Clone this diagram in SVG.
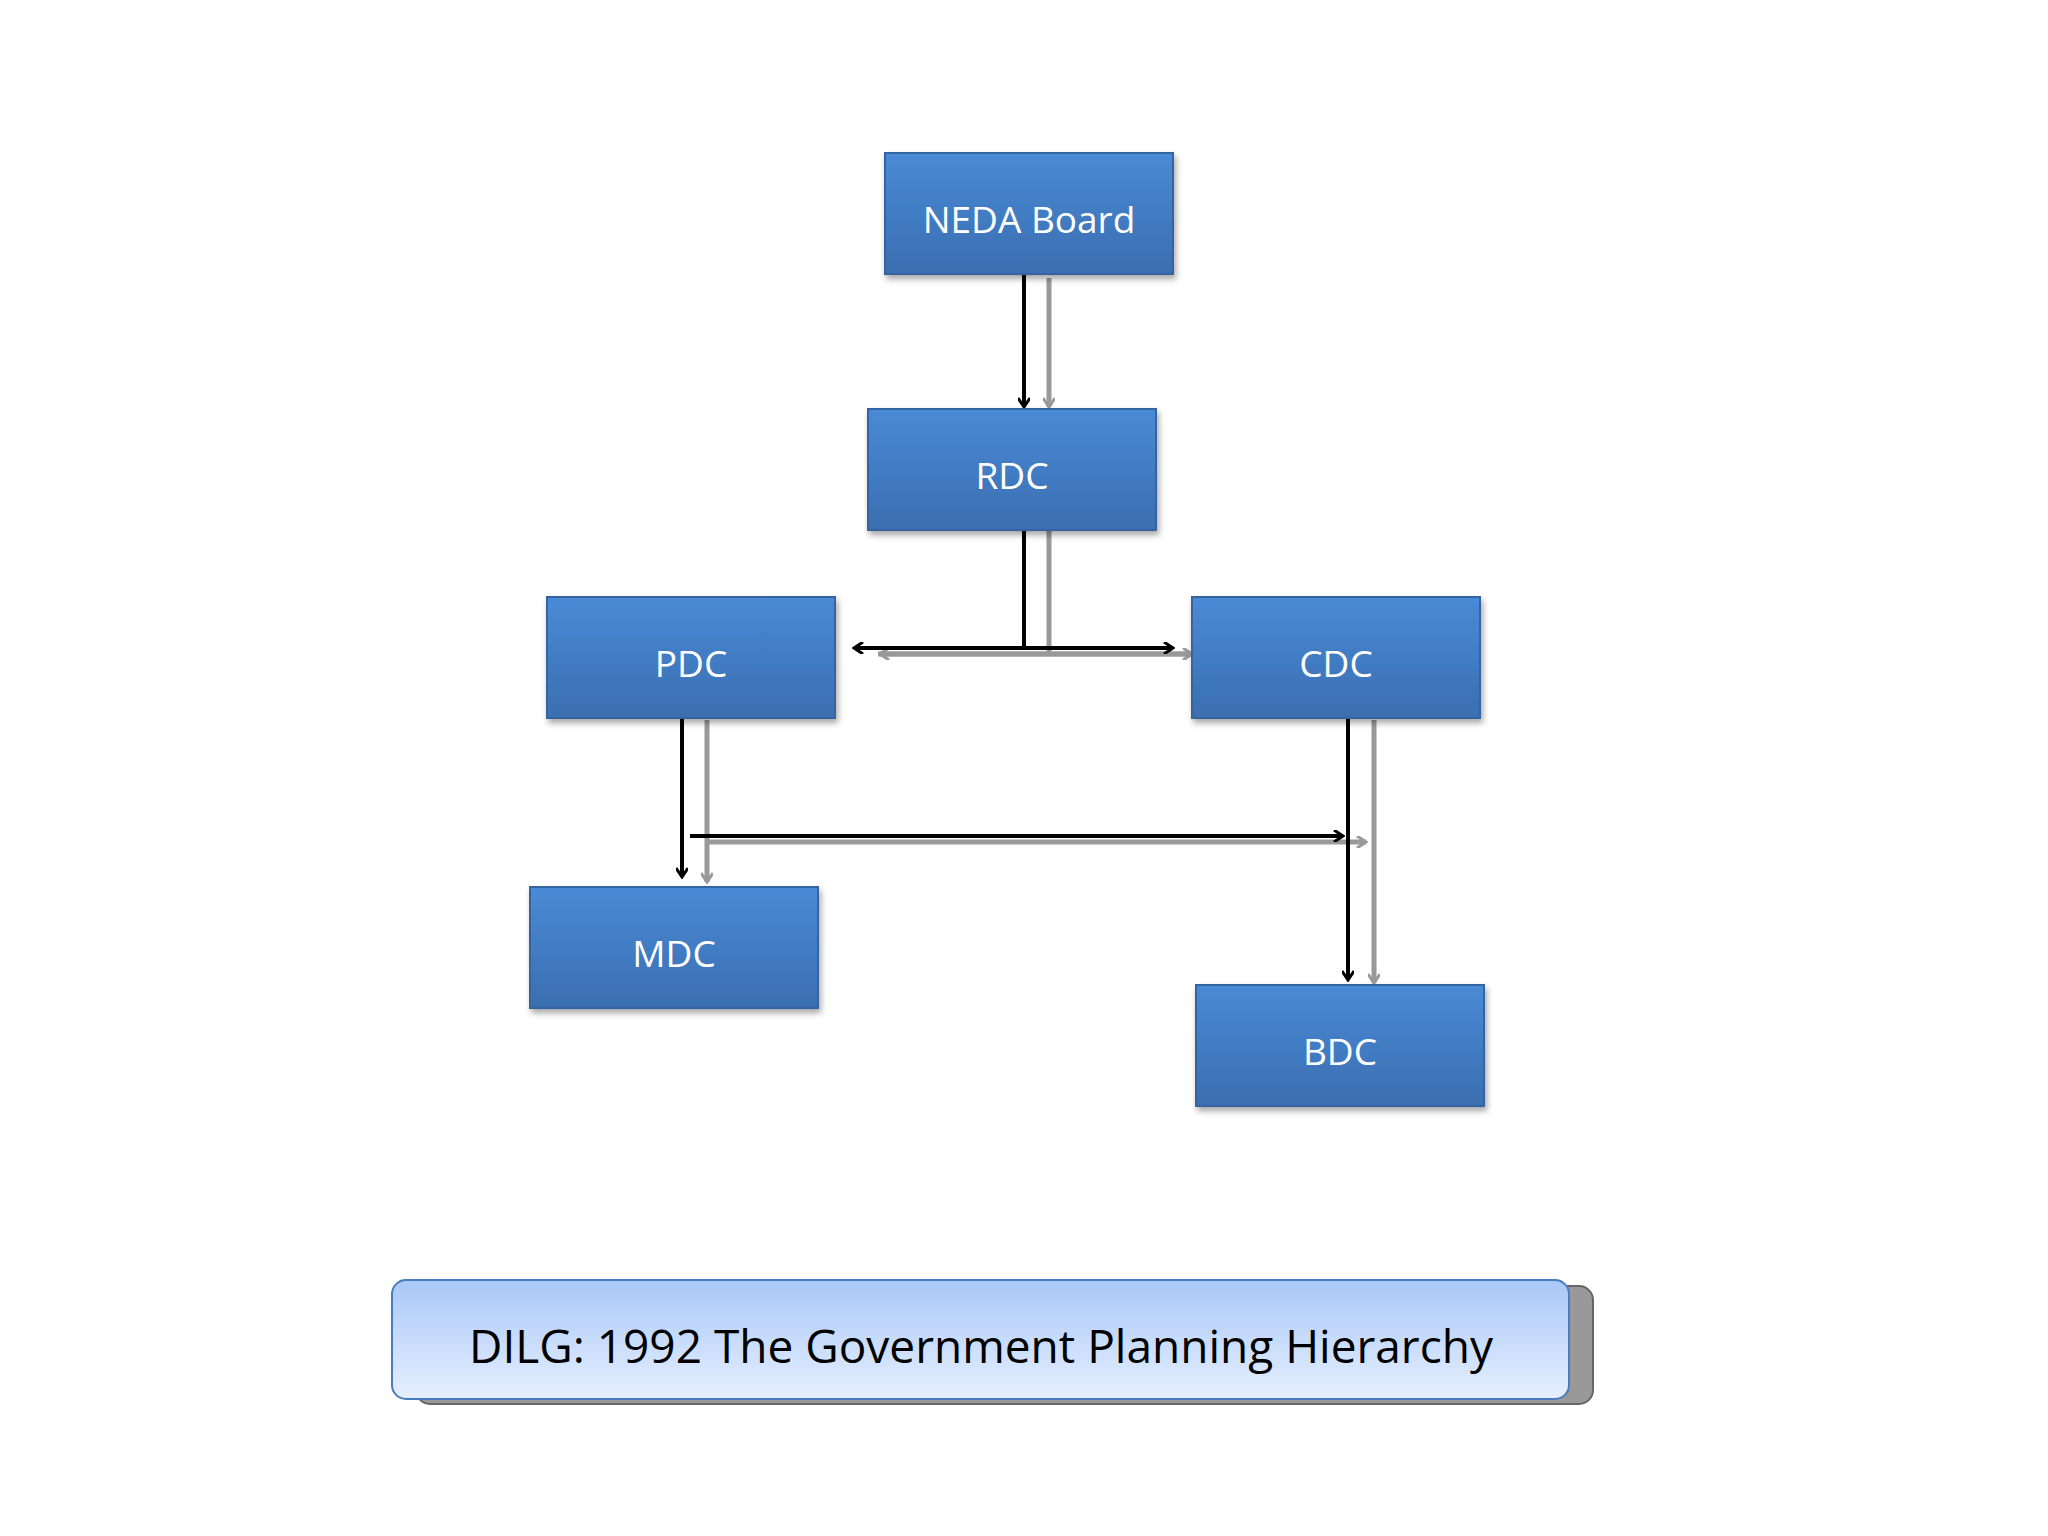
<svg xmlns="http://www.w3.org/2000/svg" width="2048" height="1536" viewBox="0 0 2048 1536">
<defs>
<linearGradient id="bg" x1="0" y1="0" x2="0" y2="1"><stop offset="0" stop-color="#4a8ad6"/><stop offset="1" stop-color="#3a6eb0"/></linearGradient>
<linearGradient id="cg" x1="0" y1="0" x2="0" y2="1"><stop offset="0" stop-color="#a9c8f7"/><stop offset="1" stop-color="#e6efff"/></linearGradient>
<marker id="ab" markerWidth="12" markerHeight="12" refX="10" refY="6" orient="auto" markerUnits="userSpaceOnUse"><path d="M1,0 L10,6 L1,12" fill="none" stroke="#000" stroke-width="3"/></marker>
<marker id="ag" markerWidth="12" markerHeight="12" refX="10" refY="6" orient="auto" markerUnits="userSpaceOnUse"><path d="M1,0 L10,6 L1,12" fill="none" stroke="#999" stroke-width="3"/></marker>
<filter id="sh"><feDropShadow dx="2" dy="4" stdDeviation="3" flood-opacity="0.35"/></filter>
</defs>
<style>
.box{fill:url(#bg);stroke:#3465a0;stroke-width:2;filter:url(#sh)}
.t{font-family:"Open Sans","Noto Sans",sans-serif;font-size:37px;fill:#fff;text-anchor:middle;dominant-baseline:central}
.k{stroke:#000;stroke-width:4;fill:none}
.g{stroke:#999;stroke-width:5;fill:none}
</style>
<rect width="2048" height="1536" fill="#fff"/>
<g id="connectors">
<line class="g" x1="1049" y1="278" x2="1049" y2="407" marker-end="url(#ag)"/>
<line class="k" x1="1024" y1="274" x2="1024" y2="407" marker-end="url(#ab)"/>
<line class="g" x1="1049" y1="530" x2="1049" y2="654"/>
<line class="g" x1="878" y1="654" x2="1190" y2="654"/>
<line class="g" x1="1049" y1="654" x2="880" y2="654" marker-end="url(#ag)"/>
<line class="g" x1="1049" y1="654" x2="1192" y2="654" marker-end="url(#ag)"/>
<line class="k" x1="1024" y1="530" x2="1024" y2="648"/>
<line class="k" x1="1024" y1="648" x2="854" y2="648" marker-end="url(#ab)"/>
<line class="k" x1="1024" y1="648" x2="1173" y2="648" marker-end="url(#ab)"/>
<line class="g" x1="707" y1="720" x2="707" y2="882" marker-end="url(#ag)"/>
<line class="g" x1="707" y1="842" x2="1366" y2="842" marker-end="url(#ag)"/>
<line class="k" x1="682" y1="718" x2="682" y2="877" marker-end="url(#ab)"/>
<line class="k" x1="690" y1="836" x2="1343" y2="836" marker-end="url(#ab)"/>
<line class="g" x1="1374" y1="720" x2="1374" y2="983" marker-end="url(#ag)"/>
<line class="k" x1="1348" y1="718" x2="1348" y2="980" marker-end="url(#ab)"/>
</g>
<g id="neda"><rect class="box" x="885" y="153" width="288" height="121"/><text class="t" x="1029" y="218">NEDA Board</text></g>
<g id="rdc"><rect class="box" x="868" y="409" width="288" height="121"/><text class="t" x="1012" y="474">RDC</text></g>
<g id="pdc"><rect class="box" x="547" y="597" width="288" height="121"/><text class="t" x="691" y="662">PDC</text></g>
<g id="cdc"><rect class="box" x="1192" y="597" width="288" height="121"/><text class="t" x="1336" y="662">CDC</text></g>
<g id="mdc"><rect class="box" x="530" y="887" width="288" height="121"/><text class="t" x="674" y="952">MDC</text></g>
<g id="bdc"><rect class="box" x="1196" y="985" width="288" height="121"/><text class="t" x="1340" y="1050">BDC</text></g>
<g id="caption">
<rect x="416" y="1286" width="1177" height="118" rx="14" fill="#999" stroke="#666" stroke-width="2"/>
<rect x="392" y="1280" width="1177" height="119" rx="14" fill="url(#cg)" stroke="#4a7cc0" stroke-width="2"/>
<text x="981" y="1345" font-family="'Open Sans','Noto Sans',sans-serif" font-size="46" fill="#000" text-anchor="middle" dominant-baseline="central">DILG: 1992 The Government Planning Hierarchy</text>
</g>
</svg>
